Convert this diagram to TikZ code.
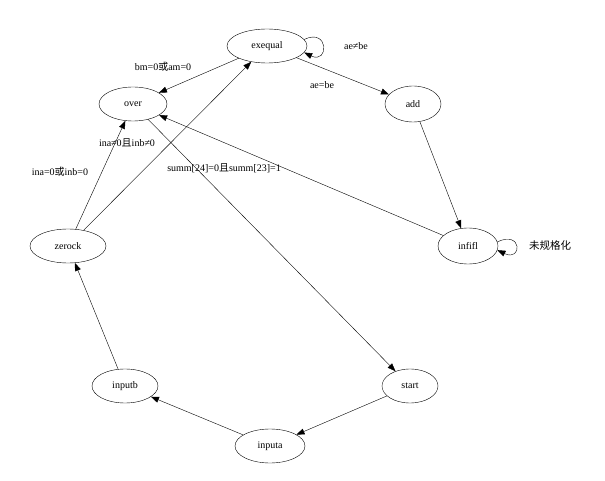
\documentclass[tikz,border=0pt]{standalone}
\usepackage{fontspec}
\setmainfont{Liberation Serif}
\newfontfamily\cjk{Noto Sans CJK SC}
\usetikzlibrary{arrows.meta,shapes.geometric}
\begin{document}
\begin{tikzpicture}[x=1pt,y=-1pt,
  st/.style={draw,ellipse,minimum height=34pt,inner sep=0pt,font=\fontsize{10}{12}\selectfont},
  ar/.style={-{Triangle[length=8pt,width=6pt]},thin},
  lb/.style={font=\fontsize{10}{12}\selectfont,inner sep=1pt}]
\useasboundingbox (0,0) rectangle (605,481);
\node[st,minimum width=80pt] (exequal) at (267,46) {exequal};
\node[st,minimum width=68pt] (over) at (133,104) {over};
\node[st,minimum width=56pt,minimum height=36pt] (add) at (413,104) {add};
\node[st,minimum width=76pt] (zerock) at (68,246) {zerock};
\node[st,minimum width=60pt,minimum height=36pt] (infifl) at (468,246) {infifl};
\node[st,minimum width=66pt] (inputb) at (125,386) {inputb};
\node[st,minimum width=56pt] (start) at (410,386) {start};
\node[st,minimum width=70pt] (inputa) at (270,446) {inputa};

\draw[ar] (exequal) -- (over);
\draw[ar] (exequal) -- (add);
\draw[ar] (exequal.10) .. controls +(25,-12) and +(25,12) .. (exequal.-10);
\draw[ar] (add) -- (infifl);
\draw[ar] (infifl.8) .. controls +(25,-12) and +(25,12) .. (infifl.-8);
\draw[ar] (infifl) -- (over);
\draw[ar] (over) -- (start);
\draw[ar] (zerock) -- (over);
\draw[ar] (zerock) -- (exequal);
\draw[ar] (start) -- (inputa);
\draw[ar] (inputa) -- (inputb);
\draw[ar] (inputb) -- (zerock);

\node[lb] (l_bm) at (163,67) {bm=0{\cjk 或}am=0};
\node[lb] (l_ae) at (322,85) {ae=be};
\node[lb] (l_ne) at (356,46) {ae≠be};
\node[lb] (l_nn) at (127,143) {ina≠0{\cjk 且}inb≠0};
\node[lb] (l_or) at (60,172) {ina=0{\cjk 或}inb=0};
\node[lb] (l_su) at (224,168) {summ[24]=0{\cjk 且}summ[23]=1};
\node[lb,font=\cjk\fontsize{10.5}{12}\selectfont] (l_wg) at (550,246) {未规格化};
\end{tikzpicture}
\end{document}
